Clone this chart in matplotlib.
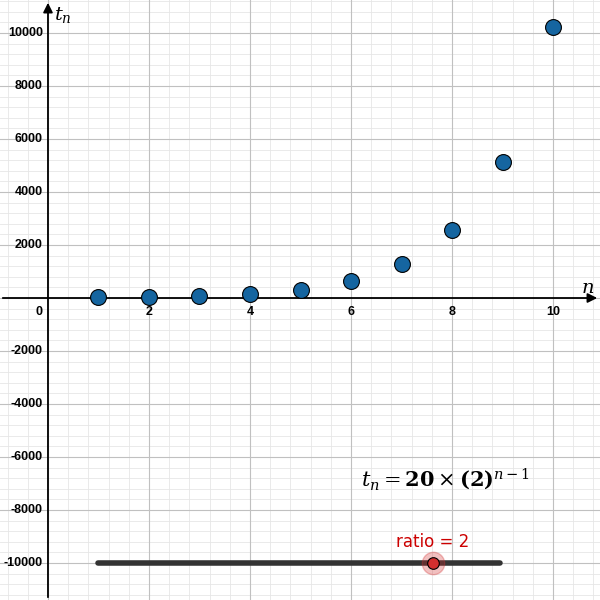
import matplotlib
matplotlib.use("Agg")
import matplotlib.pyplot as plt
import numpy as np

plt.rcParams["mathtext.fontset"] = "dejavuserif"

n_vals = [1, 2, 3, 4, 5, 6, 7, 8, 9, 10]
t_vals = [20, 40, 80, 160, 320, 640, 1280, 2560, 5120, 10240]
x_ticks = [2, 4, 6, 8, 10]
y_ticks = [-10000, -8000, -6000, -4000, -2000, 2000, 4000, 6000, 8000, 10000]
slider_range = [1.0, 8.95]
slider_pos = 7.62
slider_y = -10000

fig = plt.figure(figsize=(6, 6), dpi=100)
ax = fig.add_axes([0, 0, 1, 1])
xmin, xmax = -0.95, 10.93
ymin, ymax = -11396, 11245
ax.set_xlim(xmin, xmax)
ax.set_ylim(ymin, ymax)
for s in ax.spines.values():
    s.set_visible(False)
ax.set_xticks([]); ax.set_yticks([])

for x in np.arange(-0.8, 11, 0.4):
    ax.axvline(x, color="#e6e6e6", lw=0.6, zorder=0)
for y in np.arange(-11200, 11300, 400):
    ax.axhline(y, color="#e6e6e6", lw=0.6, zorder=0)
for x in np.arange(-2, 12, 2):
    ax.axvline(x, color="#c0c0c0", lw=0.8, zorder=0)
for y in np.arange(-12000, 12001, 2000):
    ax.axhline(y, color="#c0c0c0", lw=0.8, zorder=0)

ax.annotate("", xy=(xmax, 0), xytext=(xmin, 0),
            arrowprops=dict(arrowstyle="-|>", color="black", lw=1.3, mutation_scale=14), zorder=2)
ax.annotate("", xy=(0, ymax), xytext=(0, ymin),
            arrowprops=dict(arrowstyle="-|>", color="black", lw=1.3, mutation_scale=14), zorder=2)
ax.text(10.55, 50, "$n$", fontsize=14, ha="left", va="bottom")
ax.text(0.12, 10300, "$t_n$", fontsize=14, ha="left", va="bottom")

lab = dict(fontsize=9, fontweight="bold", family="Liberation Sans")
for x in x_ticks:
    ax.text(x, -300, str(x), ha="center", va="top", **lab)
for y in y_ticks:
    ax.text(-0.1, y, str(y), ha="right", va="center", **lab)
ax.text(-0.1, -300, "0", ha="right", va="top", **lab)

ax.scatter(n_vals, t_vals, s=130, color="#1565a0", edgecolor="black", linewidth=0.8, zorder=5)

ax.text(6.2, -6850, r"$\mathbf{\mathit{t_n}} = \mathbf{20} \times \mathbf{(2)}^{\mathit{n}-1}$",
        fontsize=15, ha="left", va="center")

ax.plot(slider_range, [slider_y, slider_y], color="#333333", lw=4, solid_capstyle="round", zorder=4)
ax.scatter([slider_pos], [slider_y], s=260, color="#d32f2f", alpha=0.3, zorder=5)
ax.scatter([slider_pos], [slider_y], s=70, color="#d32f2f", edgecolor="black", linewidth=0.8, zorder=6)
ax.text(slider_pos, slider_y + 450, "ratio = 2", color="#cc0000", fontsize=12, ha="center", va="bottom")

fig.savefig("out.png", dpi=100)
